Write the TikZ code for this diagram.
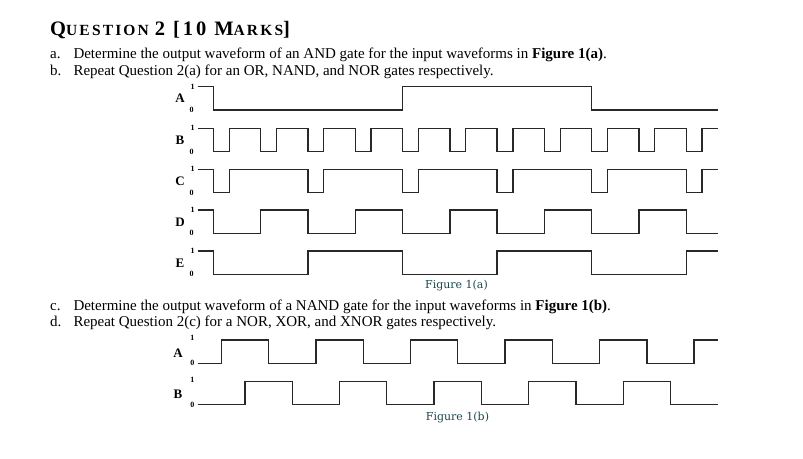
\documentclass[tikz,border=0pt]{standalone}
\usepackage{fontspec}
\setmainfont{Liberation Serif}
\newfontfamily\capfont{DejaVu Serif}
\newfontfamily\headfont[LetterSpace=14]{Liberation Serif}
\usepackage{xcolor}
\usepackage{tikz}
\definecolor{capteal}{RGB}{28,72,78}
\definecolor{wavegray}{RGB}{40,40,40}
\tikzset{
  wave/.style={draw=wavegray, line width=1.3pt, line join=miter},
  signame/.style={inner sep=0pt, font=\bfseries\fontsize{13}{13}\selectfont},
  level/.style={inner sep=0pt, font=\bfseries\fontsize{8}{8}\selectfont},
  body/.style={anchor=base west, inner sep=0pt, font=\fontsize{15}{15}\selectfont},
  caption/.style={inner sep=0pt, text=capteal, font=\capfont\fontsize{11}{11}\selectfont},
}
\newcommand{\hdbig}{\fontsize{20.5}{20.5}\selectfont}
\newcommand{\hdsmall}{\fontsize{15.5}{15.5}\selectfont}

\begin{document}
\begin{tikzpicture}[x=1pt,y=-1pt]
\useasboundingbox[fill=white] (0,0) rectangle (803,458);
\node[anchor=base west, inner sep=0pt] (title) at (50,35)
  {\headfont\bfseries\hdbig Q\hdsmall UESTION \hdbig 2 [10 M\hdsmall ARKS\hdbig ]};
\node[body] (ia) at (50,58.3) {a.};
\node[body] (qa) at (73.3,58.3) {Determine the output waveform of an AND gate for the input waveforms in \textbf{Figure 1(a)}.};
\node[body] (ib) at (50,75) {b.};
\node[body] (qb) at (73.3,75) {Repeat Question 2(a) for an OR, NAND, and NOR gates respectively.};
\node[body] (ic) at (50,310) {c.};
\node[body] (qc) at (73.3,310) {Determine the output waveform of a NAND gate for the input waveforms in \textbf{Figure 1(b)}.};
\node[body] (id) at (50,326.5) {d.};
\node[body] (qd) at (73.3,326.5) {Repeat Question 2(c) for a NOR, XOR, and XNOR gates respectively.};

% figure 1(a)
\foreach \s/\h in {A/86.7,B/128.3,C/169.3,D/210,E/251}{
  \node[signame] (na\s) at (180,\h+12) {\s};
  \node[level] (hia\s) at (192.5,\h) {1};
  \node[level] (loa\s) at (191.7,\h+23.3) {0};
}
\begin{scope}[xshift=197.7pt, x=15.76pt]
  \draw[wave] (0,86.7) -| (1,110) -| (13,86.7) -| (25,110) -- (33,110);
  \draw[wave] (0,128.3) \foreach \t in {1,4,...,31}{ -| (\t,151.6) -| (\t+1,128.3)} -- (33,128.3);
  \draw[wave] (0,169.3) \foreach \t in {1,7,...,31}{ -| (\t,192.6) -| (\t+1,169.3)} -- (33,169.3);
  \draw[wave] (0,210) \foreach \t in {1,7,...,25}{ -| (\t,233.3) -| (\t+3,210)} -| (31,233.3) -- (33,233.3);
  \draw[wave] (0,251) \foreach \t in {1,13,25}{ -| (\t,274.3) -| (\t+6,251)} -- (33,251);
\end{scope}
\node[caption] (capa) at (456.5,285.7) {Figure 1(a)};

% figure 1(b)
\foreach \s/\h in {A/340,B/381.7}{
  \node[signame] (nb\s) at (178,\h+13) {\s};
  \node[level] (hib\s) at (192.3,\h-2) {1};
  \node[level] (lob\s) at (192.3,\h+23.3) {0};
}
\begin{scope}[xshift=197.7pt, x=15.76pt]
  \draw[wave] (0,363.3) \foreach \t in {1,7,...,25}{ -| (\t+0.5,340) -| (\t+3.5,363.3)} -| (31.5,340) -- (33,340);
  \draw[wave] (0,404.3) \foreach \t in {3,9,...,27}{ -| (\t,381.7) -| (\t+3,404.3)} -- (33,404.3);
\end{scope}
\node[caption] (capb) at (457.5,417.7) {Figure 1(b)};
\end{tikzpicture}
\end{document}
